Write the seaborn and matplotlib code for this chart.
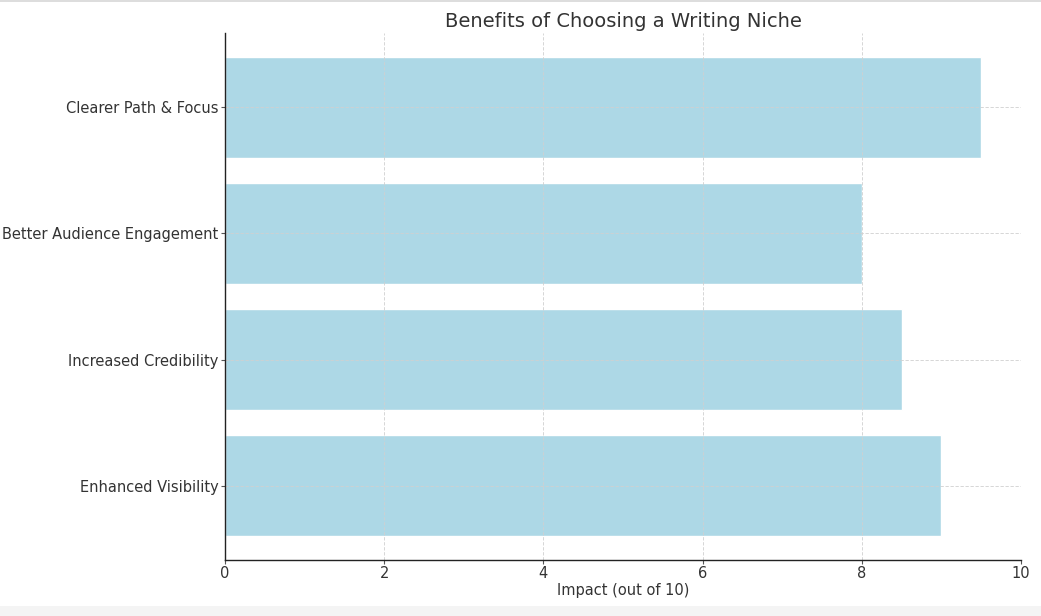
import matplotlib
matplotlib.use("Agg")
import matplotlib.pyplot as plt
import seaborn as sns
import pandas as pd
from matplotlib.patches import Rectangle

categories = ["Clearer Path & Focus", "Better Audience Engagement",
              "Increased Credibility", "Enhanced Visibility"]
impact = [9.5, 8, 8.5, 9]
x_ticks = [0, 2, 4, 6, 8, 10]

df = pd.DataFrame({"Benefit": categories, "Impact": impact})

sns.set_style("white")
plt.rcParams['font.family'] = ['DejaVu Sans']

fig = plt.figure(figsize=(10.41, 6.16), dpi=100)
ax = fig.add_axes([225/1041, 1 - 560/616, (1021-225)/1041, (560-33)/616])

sns.barplot(data=df, y="Benefit", x="Impact", orient="h", color="#ADD8E6",
            saturation=1, width=0.8, ax=ax)

ax.set_xlim(0, 10)
ax.set_ylim(3.59, -0.59)
ax.set_xticks(x_ticks)
ax.set_xticklabels([str(t) for t in x_ticks])
ax.grid(True, linestyle=(0, (4, 2)), color="#d0d0d0", linewidth=0.6)
ax.set_axisbelow(False)
ax.tick_params(axis="both", which="both", length=3, width=0.8, color="#555555",
               labelsize=10.5, labelcolor="#333333", left=True, bottom=True, pad=1.5)
for s in ["top", "right"]:
    ax.spines[s].set_visible(False)
for s in ["left", "bottom"]:
    ax.spines[s].set_color("#222222")
    ax.spines[s].set_linewidth(1.0)
    ax.spines[s].set_zorder(5)

ax.set_ylabel("")
ax.set_xlabel("Impact (out of 10)", fontsize=10.5, color="#333333", labelpad=1)
ax.set_title("Benefits of Choosing a Writing Niche", fontsize=14, color="#333333", pad=4)

fig.patches.append(Rectangle((0, 0), 1, 10/616, transform=fig.transFigure,
                             facecolor="#f4f4f4", edgecolor="none", zorder=-1))
fig.patches.append(Rectangle((0, 1 - 2/616), 1, 2/616, transform=fig.transFigure,
                             facecolor="#dddddd", edgecolor="none", zorder=-1))

fig.savefig("out.png", dpi=100)
